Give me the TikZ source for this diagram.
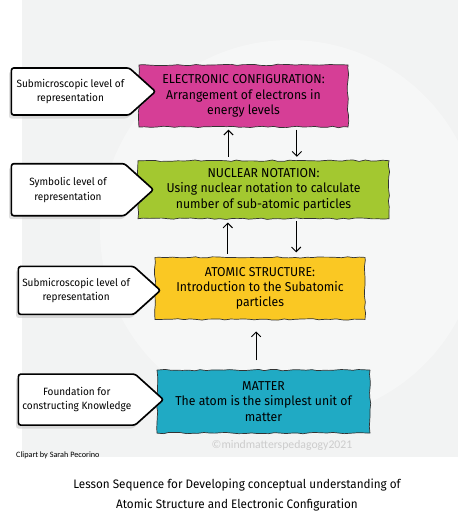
\documentclass[tikz,border=0pt]{standalone}
\usepackage{fontspec}
\newfontfamily\handfont[FakeStretch=0.95]{Fira Sans}
\newfontfamily\clipfont{Carlito}
\usetikzlibrary{arrows.meta, positioning, shapes.symbols, shadows, decorations.pathmorphing}
\definecolor{panelgray}{RGB}{242,243,243}
\definecolor{configpink}{RGB}{214,62,150}
\definecolor{notationgreen}{RGB}{163,200,48}
\definecolor{structureyellow}{RGB}{250,200,35}
\definecolor{mattercyan}{RGB}{32,170,196}
\pgfmathsetseed{7}

\begin{document}
\begin{tikzpicture}[node distance=1cm,
            stage/.style={draw=black!80, line width=0.6pt, rectangle, align=center,
              font=\handfont\fontsize{11}{13}\selectfont, inner sep=2pt,
              decorate, decoration={random steps, segment length=5pt, amplitude=0.6pt}},
            level/.style={signal, signal to=east, signal pointer angle=84, draw, line width=1.4pt,
              fill=white, rounded corners=2pt, align=center, font=\handfont\fontsize{9}{12.5}\selectfont,
              inner xsep=1pt, drop shadow={shadow xshift=-2pt, shadow yshift=-3pt, fill=black!25}},
            link/.style={->, line width=0.8pt},
            >={Straight Barb[length=4pt, width=8pt]}]
          \useasboundingbox (0,0) rectangle (14.22,-15.45);
          % background panel
          \fill[panelgray] (0.66,0) rectangle (13.74,-13.71);
          \fill[white, opacity=0.35] (8.7,-6.9) circle (5.7cm);
          % stages
          \node[stage, fill=configpink, minimum width=6.27cm, minimum height=1.86cm] (config) at (7.305,-2.88)
            {ELECTRONIC CONFIGURATION:\\Arrangement of electrons in\\energy levels};
          \node[stage, fill=notationgreen, minimum width=7.53cm, minimum height=1.74cm, below=0.99cm of config, xshift=0.6cm] (notation)
            {NUCLEAR NOTATION:\\Using nuclear notation to calculate\\number of sub-atomic particles};
          \node[stage, fill=structureyellow, minimum width=6.3cm, minimum height=1.86cm, below=1.14cm of notation, xshift=-0.105cm] (structure)
            {ATOMIC STRUCTURE:\\Introduction to the Subatomic\\particles};
          \node[stage, fill=mattercyan, minimum width=6.39cm, minimum height=1.89cm, below=1.5cm of structure, xshift=0.105cm] (matter)
            {MATTER\\The atom is the simplest unit of\\matter};
          % levels of representation
          \node[level, minimum width=4.32cm, minimum height=1.41cm, left=-0.54cm of config, yshift=0.135cm] (levelconfig)
            {Submicroscopic level of\\representation};
          \node[level, minimum width=4.26cm, minimum height=1.56cm, left=-0.51cm of notation] (levelnotation)
            {Symbolic level of\\representation};
          \node[level, minimum width=4.26cm, minimum height=1.44cm, left=-0.21cm of structure, yshift=-0.06cm] (levelstructure)
            {Submicroscopic level of\\representation};
          \node[level, minimum width=4.35cm, minimum height=1.53cm, left=-0.24cm of matter, yshift=0.06cm] (levelmatter)
            {Foundation for\\constructing Knowledge};
          % arrows
          \draw[link, shorten <=3pt, shorten >=2pt] ([xshift=-1.05cm]notation.north) -- ([xshift=-1.05cm]notation.north |- config.south);
          \draw[link, shorten <=2pt, shorten >=3pt] ([xshift=1cm]notation.north |- config.south) -- ([xshift=1cm]notation.north);
          \draw[link, shorten <=3pt, shorten >=3pt] ([xshift=-1.07cm]notation.north |- structure.north) -- ([xshift=-1.07cm]notation.south);
          \draw[link, shorten <=2pt, shorten >=4pt] ([xshift=0.98cm]notation.south) -- ([xshift=0.98cm]notation.south |- structure.north);
          \draw[link, shorten <=8pt, shorten >=10pt] ([xshift=-0.22cm]matter.north) -- ([xshift=-0.22cm]matter.north |- structure.south);
          % credits and caption
          \node[font=\clipfont\fontsize{7}{8}\selectfont, anchor=west] (clipart) at (0.36,-13.65) {Clipart by Sarah Pecorino};
          \node[font=\clipfont\fontsize{10}{12}\selectfont, text=black!20] (copyright) at (8.46,-13.35) {\textcopyright mindmatterspedagogy2021};
          \node[font=\handfont\fontsize{10.5}{17}\selectfont, align=center] (caption) at (7.11,-14.85)
            {Lesson Sequence for Developing conceptual understanding of\\Atomic Structure and Electronic Configuration};
        \end{tikzpicture}
\end{document}
